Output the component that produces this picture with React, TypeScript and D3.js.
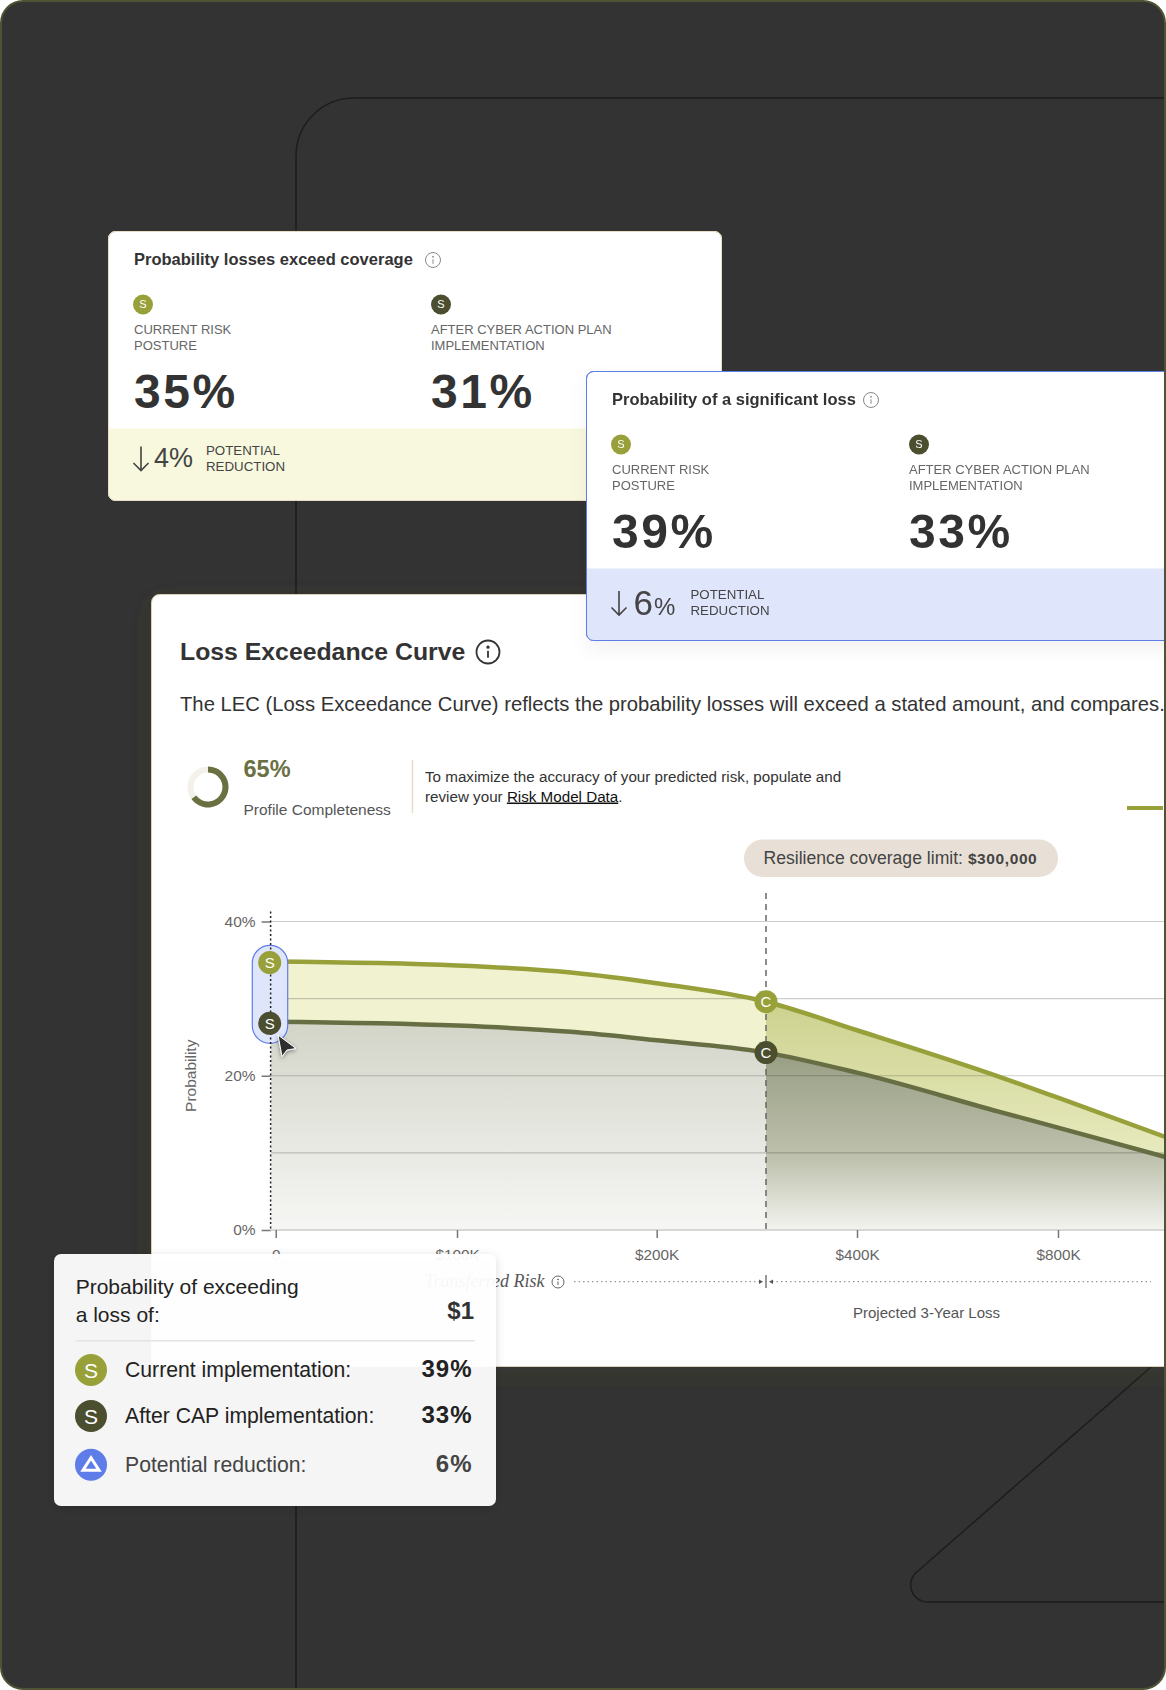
import { useEffect, useRef } from "react"
import * as d3 from "d3"

// curve readings, loss in $K (first point sits just left of the 0 tick)
const lossK = [-2.8, 100, 157, 200, 300, 400, 682, 800, 1012]
const currentProb = [34.8, 34.3, 33.4, 32.0, 29.6, 25.9, 19.9, 17.15, 12.1]
const afterProb = [27.0, 26.5, 25.7, 24.6, 23.0, 20.4, 15.35, 13.27, 9.5]

const xTicks = [0, 100, 200, 400, 800]
const xKnots = [0, 100, 200, 300, 400, 800]
const yTicks = [0, 20, 40]
const gridValues = [10, 20, 30, 40]
const coverageK = 300

const cards = [
  { title: "Probability losses exceed coverage", current: "35%", after: "31%", reduction: "4" },
  { title: "Probability of a significant loss", current: "39%", after: "33%", reduction: "6" },
]
const tooltipRows = [
  { label: "Current implementation:", value: "39%" },
  { label: "After CAP implementation:", value: "33%" },
  { label: "Potential reduction:", value: "6%" },
]

const FONT = "'Liberation Sans', Arial, sans-serif"
const OLIVE = "#98a03a"
const DARK_OLIVE = "#4b4f2f"
const LINE_OLIVE = "#686e43"
const BLUE = "#5f7de8"
const INK = "#333333"

const x = d3.scaleLinear<number>().domain(xKnots).range([275.7, 457, 656.7, 766, 857, 1058])
const y = d3.scaleLinear().domain([0, 40]).range([1230, 921.5])

const points = lossK.map((k, i) => ({ k, current: currentProb[i], after: afterProb[i] }))
type Pt = (typeof points)[0]

const bandArea = d3.area<Pt>().x(d => x(d.k)).y0(d => y(d.after)).y1(d => y(d.current)).curve(d3.curveMonotoneX)
const underArea = d3.area<Pt>().x(d => x(d.k)).y0(y(0)).y1(d => y(d.after)).curve(d3.curveMonotoneX)
const currentLine = d3.line<Pt>().x(d => x(d.k)).y(d => y(d.current)).curve(d3.curveMonotoneX)
const afterLine = d3.line<Pt>().x(d => x(d.k)).y(d => y(d.after)).curve(d3.curveMonotoneX)

function InfoIcon({ cx, cy, r, color }: { cx: number; cy: number; r: number; color: string }) {
  return (
    <g stroke={color} fill="none" strokeWidth={r > 9 ? 1.8 : 1}>
      <circle cx={cx} cy={cy} r={r} />
      <line x1={cx} x2={cx} y1={cy - r * 0.1} y2={cy + r * 0.5} />
      <circle cx={cx} cy={cy - r * 0.42} r={r > 9 ? 0.8 : 0.5} fill={color} />
    </g>
  )
}

function Badge({ cx, cy, r, fill, label, size }: { cx: number; cy: number; r: number; fill: string; label: string; size: number }) {
  return (
    <g>
      <circle cx={cx} cy={cy} r={r} fill={fill} />
      <text x={cx} y={cy + size * 0.36} textAnchor="middle" fontSize={size} fill="#fff">{label}</text>
    </g>
  )
}

function SummaryCard({ ox, oy, w, band, stroke, data, big }: { ox: number; oy: number; w: number; band: string; stroke: string; data: (typeof cards)[0]; big?: boolean }) {
  const col2 = ox + 323
  const dy = big ? 4.5 : 0
  return (
    <g>
      <rect x={ox} y={oy} width={w} height={269} rx={7} fill="#fff" stroke={stroke} strokeWidth={1} />
      <path d={`M${ox + 0.5},${oy + 197}H${ox + w - 0.5}V${oy + 262}a7,7 0 0 1 -7,7H${ox + 7}a6.5,6.5 0 0 1 -6.5,-7Z`} fill={band} />
      <rect x={ox} y={oy} width={w} height={269} rx={7} fill="none" stroke={stroke} strokeWidth={1} />
      <g transform="translate(-0.5,-1)">
        <text x={ox + 26} y={oy + 34} fontSize={16.5} fontWeight={700} fill={INK}>{data.title}</text>
        <Badge cx={ox + 35} cy={oy + 74} r={10} fill={OLIVE} label="S" size={11} />
        <text fontSize={13} fill="#666" x={ox + 26} y={oy + 103}>CURRENT RISK</text>
        <text fontSize={13} fill="#666" x={ox + 26} y={oy + 119}>POSTURE</text>
        <text x={ox + 26} y={oy + 177} fontSize={48} fontWeight={700} letterSpacing={2.5} fill={INK}>{data.current}</text>
        <Badge cx={col2 + 10} cy={oy + 74} r={10} fill={DARK_OLIVE} label="S" size={11} />
        <text fontSize={13} fill="#666" x={col2} y={oy + 103}>AFTER CYBER ACTION PLAN</text>
        <text fontSize={13} fill="#666" x={col2} y={oy + 119}>IMPLEMENTATION</text>
        <text x={col2} y={oy + 177} fontSize={48} fontWeight={700} letterSpacing={2.5} fill={INK}>{data.after}</text>
        <path d={`M${ox + 33},${oy + 216 + dy}V${oy + 240 + dy}M${ox + 25.5},${oy + 232.5 + dy}L${ox + 33},${oy + 240 + dy}L${ox + 40.5},${oy + 232.5 + dy}`} fill="none" stroke="#444" strokeWidth={1.6} />
        {big
          ? <text x={ox + 47.5} y={oy + 244} fontSize={35} fill="#444">{data.reduction}<tspan fontSize={24} dx={1}>%</tspan></text>
          : <text x={ox + 46} y={oy + 236} fontSize={27} fill="#444">{data.reduction}%</text>}
        <text fontSize={13.3} fill="#444" x={ox + (big ? 104.5 : 98)} y={oy + 224 + dy}>POTENTIAL</text>
        <text fontSize={13.3} fill="#444" x={ox + (big ? 104.5 : 98)} y={oy + 240 + dy}>REDUCTION</text>
      </g>
    </g>
  )
}

export default function App() {
  const xAxisRef = useRef<SVGGElement>(null)
  const yAxisRef = useRef<SVGGElement>(null)

  useEffect(() => {
    if (!xAxisRef.current || !yAxisRef.current) return

    const xAxis = d3.select(xAxisRef.current)
      .call(d3.axisBottom(x).tickValues(xTicks).tickSize(8).tickPadding(11)
        .tickFormat(d => (+d === 0 ? "0" : `$${d}K`)) as any)
    xAxis.select(".domain").remove()
    xAxis.selectAll("line").attr("stroke", "#777").attr("stroke-width", 1.5)
    xAxis.selectAll("text").attr("fill", "#666").attr("font-size", 15.3).attr("font-family", FONT)

    const yAxis = d3.select(yAxisRef.current)
      .call(d3.axisLeft(y).tickValues(yTicks).tickSize(9).tickPadding(6).tickFormat(d => `${d}%`) as any)
    yAxis.select(".domain").remove()
    yAxis.selectAll("line").attr("stroke", "#777").attr("stroke-width", 1.5)
    yAxis.selectAll("text").attr("fill", "#666").attr("font-size", 15.5).attr("font-family", FONT)
  }, [])

  const plotLeft = x(lossK[0])
  const plotRight = x(lossK[lossK.length - 1])
  const splitX = x(coverageK)
  const topC = y(currentProb[lossK.indexOf(coverageK)])
  const botC = y(afterProb[lossK.indexOf(coverageK)])
  const topS = y(currentProb[0])
  const botS = y(afterProb[0])

  return (
    <svg width={1166} height={1690} viewBox="0 0 1166 1690" fontFamily={FONT}
      style={{ position: "absolute", left: 0, top: 0, display: "block", background: "#fff" }}>
      <defs>
        <clipPath id="frame"><rect x={1} y={1} width={1163.5} height={1688} rx={22} /></clipPath>
        <clipPath id="left-part"><rect x={plotLeft} y={900} width={splitX - plotLeft} height={340} /></clipPath>
        <clipPath id="right-part"><rect x={splitX} y={900} width={plotRight - splitX + 10} height={340} /></clipPath>
        <linearGradient id="under-left" gradientUnits="userSpaceOnUse" x1={0} x2={0} y1={y(26)} y2={y(0)}>
          <stop offset="0%" stopColor="#d4d6ca" />
          <stop offset="100%" stopColor="#f6f6f4" />
        </linearGradient>
        <linearGradient id="under-right" gradientUnits="userSpaceOnUse" x1={0} x2={0} y1={y(23)} y2={y(0)}>
          <stop offset="0%" stopColor="#989e84" />
          <stop offset="60%" stopColor="#bfc2ae" />
          <stop offset="100%" stopColor="#f3f3ef" />
        </linearGradient>
        <linearGradient id="band-right" gradientUnits="userSpaceOnUse" x1={0} x2={0} y1={y(30)} y2={y(10)}>
          <stop offset="0%" stopColor="#ccd18e" />
          <stop offset="100%" stopColor="#e7eabd" />
        </linearGradient>
        <filter id="card-shadow" x="-10%" y="-10%" width="120%" height="125%">
          <feDropShadow dx={0} dy={6} stdDeviation={12} floodColor="#4f5233" floodOpacity={0.18} />
        </filter>
        <filter id="blue-shadow" x="-10%" y="-10%" width="120%" height="130%">
          <feDropShadow dx={0} dy={8} stdDeviation={9} floodColor="#000" floodOpacity={0.05} />
        </filter>
        <filter id="tip-shadow" x="-10%" y="-10%" width="120%" height="120%">
          <feDropShadow dx={0} dy={2} stdDeviation={5} floodColor="#000" floodOpacity={0.15} />
        </filter>
        <filter id="cursor-shadow" x="-50%" y="-50%" width="200%" height="200%">
          <feDropShadow dx={0} dy={1.5} stdDeviation={2} floodColor="#000" floodOpacity={0.4} />
        </filter>
      </defs>

      <g clipPath="url(#frame)">
        <rect width={1166} height={1690} fill="#333333" />

        {/* background outlines */}
        <path d="M1166,98H354a58,58 0 0 0 -58,58V1690" fill="none" stroke="#1d1d1d" strokeWidth={1.5} />
        <path d="M1168,1352L918,1571a17,17 0 0 0 10,31H1166" fill="none" stroke="#1d1d1d" strokeWidth={1.5} />

        <SummaryCard ox={108.5} oy={231.5} w={613} band="#f7f8de" stroke="#e6dcc8" data={cards[0]} />
        <InfoIcon cx={433} cy={260} r={7.5} color="#8a8a8a" />

        {/* main card */}
        <g filter="url(#card-shadow)">
          <rect x={151.5} y={594.5} width={1040} height={772} rx={8} fill="#fff" stroke="#dcd0b6" strokeWidth={1} />
        </g>
        <text x={180} y={660} fontSize={24.8} fontWeight={700} fill={INK}>Loss Exceedance Curve</text>
        <InfoIcon cx={488} cy={652} r={11.5} color={INK} />
        <text x={180} y={711} fontSize={20.25} fill={INK}>The LEC (Loss Exceedance Curve) reflects the probability losses will exceed a stated amount, and compares.</text>

        <circle cx={208} cy={787} r={17.5} fill="none" stroke="#f3f1ea" strokeWidth={6} />
        <path
          transform="translate(208,787)"
          d={d3.arc()({ innerRadius: 14.5, outerRadius: 20.5, startAngle: 0, endAngle: 0.65 * 2 * Math.PI }) ?? ""}
          fill="#6b7043"
        />
        <text x={243.5} y={776.5} fontSize={23.5} fontWeight={700} fill="#6b7043">65%</text>
        <text x={243.5} y={815} fontSize={15.5} fill="#555">Profile Completeness</text>
        <line x1={412.5} x2={412.5} y1={760} y2={813} stroke="#e8dcc8" strokeWidth={1.5} />
        <text x={425} y={781.5} fontSize={15.2} fill={INK}>To maximize the accuracy of your predicted risk, populate and</text>
        <text x={425} y={801.5} fontSize={15.2} fill={INK}>review your <tspan textDecoration="underline" fill="#111">Risk Model Data</tspan>.</text>
        <line x1={1127} x2={1163} y1={808} y2={808} stroke={OLIVE} strokeWidth={4} />

        <rect x={744} y={839.5} width={314} height={37.5} rx={18.7} fill="#e8e0d6" />
        <text x={763.5} y={864} fontSize={17.6} fill="#444">
          Resilience coverage limit: <tspan fontWeight={700} fontSize={15.5} letterSpacing={0.6} fill="#444">$300,000</tspan>
        </text>

        {/* chart */}
        <path d={underArea(points) ?? ""} fill="url(#under-left)" clipPath="url(#left-part)" />
        <path d={bandArea(points) ?? ""} fill="#f0f2d0" clipPath="url(#left-part)" />
        <path d={underArea(points) ?? ""} fill="url(#under-right)" clipPath="url(#right-part)" />
        <path d={bandArea(points) ?? ""} fill="url(#band-right)" clipPath="url(#right-part)" />

        {gridValues.map(v => (
          <line key={v} x1={plotLeft} x2={plotRight} y1={y(v)} y2={y(v)} stroke="#000" strokeOpacity={0.2} strokeWidth={1.2} />
        ))}
        <line x1={plotLeft} x2={plotRight} y1={y(0)} y2={y(0)} stroke="#ccc" strokeWidth={1.5} />

        <line x1={splitX} x2={splitX} y1={893} y2={y(0)} stroke="#666" strokeWidth={1.5} strokeDasharray="6 5" />
        <path d={currentLine(points) ?? ""} fill="none" stroke={OLIVE} strokeWidth={4.5} />
        <path d={afterLine(points) ?? ""} fill="none" stroke={LINE_OLIVE} strokeWidth={4.5} />

        <g ref={xAxisRef} transform={`translate(0,${y(0)})`} />
        <g ref={yAxisRef} transform={`translate(${plotLeft},0)`} />
        <text transform={`translate(196,${y(20)}) rotate(-90)`} textAnchor="middle" fontSize={15.5} fill="#666">Probability</text>

        <rect x={252.3} y={945.3} width={35.4} height={98} rx={17.7} fill="#dfe5fa" stroke={BLUE} strokeWidth={1.2} />
        <line x1={plotLeft} x2={plotLeft} y1={911.5} y2={y(0)} stroke="#222" strokeWidth={1.5} strokeDasharray="2 2.5" />
        <Badge cx={269.7} cy={topS + 1} r={11.5} fill={OLIVE} label="S" size={15} />
        <Badge cx={269.7} cy={botS + 1.5} r={11.5} fill={DARK_OLIVE} label="S" size={15} />
        <Badge cx={splitX} cy={topC} r={11.5} fill={OLIVE} label="C" size={15} />
        <Badge cx={splitX} cy={botC} r={11.5} fill={DARK_OLIVE} label="C" size={15} />
        <path d="M278,1035L296,1048.5L287,1050L282,1056.5Z" fill="#2e2e2e" stroke="#fff" strokeWidth={1} filter="url(#cursor-shadow)" />

        {/* transferred / projected markers */}
        <text x={424.6} y={1287} fontSize={18} fontStyle="italic" fontFamily="'Liberation Serif', serif" fill="#555">Transferred Risk</text>
        <InfoIcon cx={558} cy={1282} r={6} color="#666" />
        <line x1={574} x2={760} y1={1281.7} y2={1281.7} stroke="#999" strokeWidth={1.3} strokeDasharray="1.5 3" />
        <line x1={772} x2={1151} y1={1281.7} y2={1281.7} stroke="#999" strokeWidth={1.3} strokeDasharray="1.5 3" />
        <path d="M759,1279.5L763,1281.7L759,1284ZM773,1279.5L769,1281.7L773,1284Z" fill="#555" />
        <line x1={splitX} x2={splitX} y1={1275} y2={1288} stroke="#555" strokeWidth={1.2} />
        <text x={853} y={1318} fontSize={15} fill="#555">Projected 3-Year Loss</text>

        <g filter="url(#blue-shadow)">
          <SummaryCard ox={586.5} oy={371.5} w={620} band="#dfe5fa" stroke={BLUE} data={cards[1]} big />
        </g>
        <InfoIcon cx={871} cy={400} r={7.5} color="#8a8a8a" />

        {/* tooltip */}
        <rect x={54} y={1254} width={442} height={252} rx={7} fill="#fff" fillOpacity={0.95} filter="url(#tip-shadow)" />
        <text x={75.7} y={1294} fontSize={21} fill="#222">Probability of exceeding</text>
        <text x={75.7} y={1321.7} fontSize={21} fill="#222">a loss of:</text>
        <text x={474} y={1319} fontSize={24} fontWeight={700} textAnchor="end" fill={INK}>$1</text>
        <line x1={75.7} x2={475} y1={1340.7} y2={1340.7} stroke="#e4e4e4" strokeWidth={1.5} />
        {tooltipRows.map((row, i) => {
          const cy = [1370, 1416, 1464.7][i]
          return (
            <g key={row.label}>
              {i < 2
                ? <Badge cx={91} cy={cy} r={16} fill={i === 0 ? OLIVE : DARK_OLIVE} label="S" size={21} />
                : <g>
                    <circle cx={91} cy={cy} r={16} fill={BLUE} />
                    <path d={`M91,${cy - 7}L${99},${cy + 5.5}H${83}Z`} fill="none" stroke="#fff" strokeWidth={3} />
                  </g>}
              <text x={125} y={cy + 7} fontSize={21.2} fill={i === 2 ? "#444" : "#222"}>{row.label}</text>
              <text x={472.5} y={cy + 7} fontSize={24} fontWeight={700} letterSpacing={1} textAnchor="end" fill={i === 2 ? "#444" : "#222"}>{row.value}</text>
            </g>
          )
        })}
      </g>

      <rect x={1} y={1} width={1164} height={1688} rx={22} fill="none" stroke="#4f5233" strokeWidth={2} />
    </svg>
  )
}
